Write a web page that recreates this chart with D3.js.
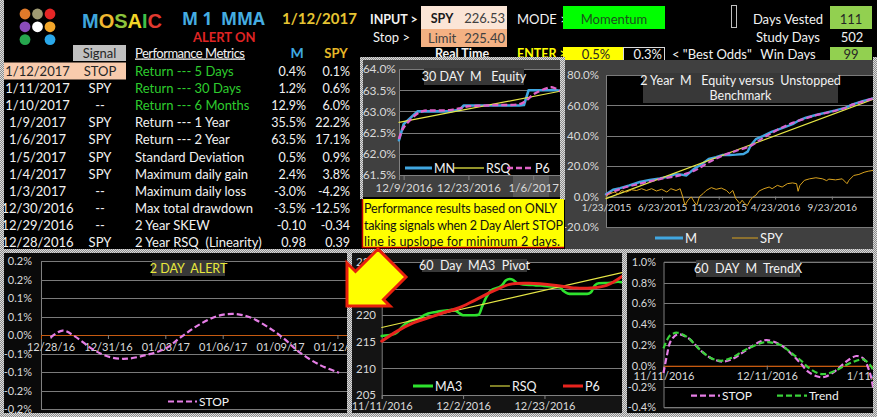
<!DOCTYPE html>
<html><head><meta charset="utf-8">
<script src="https://cdn.jsdelivr.net/npm/d3@7"></script>
<style>body{margin:0;background:#000;overflow:hidden}svg{display:block}text{white-space:pre}</style>
</head><body><svg id="c" width="877" height="417"></svg>
<script>
// ---------------- DATA ----------------
const tableDates = ["1/12/2017","1/11/2017","1/10/2017","1/9/2017","1/6/2017","1/5/2017","1/4/2017","1/3/2017","12/30/2016","12/29/2016","12/28/2016"];
const tableSignals = ["STOP","SPY","--","SPY","SPY","SPY","SPY","--","--","--","SPY"];
const metricNames = ["Return --- 5 Days","Return --- 30 Days","Return --- 6 Months","Return --- 1 Year","Return --- 2 Year","Standard Deviation","Maximum daily gain","Maximum daily loss","Max total drawdown","2 Year SKEW","2 Year RSQ  (Linearity)"];
const metricM = ["0.4%","1.2%","12.9%","35.5%","63.5%","0.5%","2.4%","-3.0%","-3.5%","-0.10","0.98"];
const metricSPY = ["0.1%","0.6%","6.0%","22.2%","17.1%","0.9%","3.8%","-4.2%","-12.5%","-0.34","0.39"];

// 30 day equity
const eqDates = ["2016-12-08","2016-12-09","2016-12-12","2016-12-13","2016-12-14","2016-12-15","2016-12-16","2016-12-19","2016-12-20","2016-12-21","2016-12-22","2016-12-23","2016-12-27","2016-12-28","2016-12-29","2016-12-30","2017-01-03","2017-01-04","2017-01-05","2017-01-06","2017-01-09","2017-01-10","2017-01-11","2017-01-12"];
const eqMN = [62.32,62.70,63.00,63.00,63.00,63.00,63.00,63.00,63.02,63.03,63.14,63.14,63.14,63.14,63.14,63.14,63.14,63.15,63.50,63.50,63.50,63.50,63.50,63.48];
const eqP6 = [62.35,62.62,62.95,63.00,63.02,63.02,63.02,63.03,63.05,63.07,63.10,63.12,63.14,63.15,63.15,63.15,63.17,63.22,63.30,63.40,63.55,63.57,63.53,63.47];
const eqRsqDates = ["2016-12-08","2017-01-12"];
const eqRsq = [62.74,63.48];
const eqYTicks = [61.5,62,62.5,63,63.5,64];
const eqYLabels = ["61.5%","62.0%","62.5%","63.0%","63.5%","64.0%"];
const eqXTicks = ["2016-12-09","2016-12-23","2017-01-06"];
const eqXLabels = ["12/9/2016","12/23/2016","1/6/2017"];

// 2 year equity vs benchmark
const twoMDates = ["2015-01-23","2015-02-11","2015-03-02","2015-03-27","2015-04-24","2015-05-21","2015-06-17","2015-07-14","2015-07-27","2015-08-10","2015-08-28","2015-09-04","2015-09-18","2015-10-12","2015-10-27","2015-11-16","2015-12-04","2015-12-22","2016-01-08","2016-01-29","2016-02-09","2016-02-18","2016-03-02","2016-03-21","2016-04-15","2016-05-12","2016-06-09","2016-06-27","2016-07-15","2016-08-11","2016-09-07","2016-10-03","2016-10-31","2016-11-18","2016-12-15","2017-01-12"];
const twoM = [1.5,4.5,5.6,7.4,9.6,11,12,13.3,14.6,14.6,13.9,15.4,18.3,22,24.8,25.9,27.4,27.4,27.6,28,29.6,34,37.8,39.8,42.8,45,47.6,50.2,52,53.7,55.2,56.7,58.5,60.7,62.8,64.6];
const twoP6Dates = ["2015-01-23","2015-03-02","2015-04-24","2015-06-17","2015-08-10","2015-09-18","2015-10-27","2015-12-04","2016-01-08","2016-02-18","2016-03-21","2016-04-15","2016-05-12","2016-06-09","2016-07-15","2016-08-11","2016-09-07","2016-10-03","2016-10-31","2016-11-18","2016-12-15","2017-01-12"];
const twoP6 = [1.0,5.0,8.5,11.5,14.0,17.0,22.5,27.0,30.0,33.5,38.5,42.0,45.5,48.5,51.5,53.5,55.0,56.5,58.5,60.5,62.5,64.5];
const twoRsqDates = ["2015-01-23","2017-01-12"];
const twoRsq = [-1.3,64.0];
const twoSpyDates = ["2015-01-23","2015-02-02","2015-02-16","2015-02-25","2015-03-06","2015-03-19","2015-04-02","2015-04-15","2015-04-29","2015-05-12","2015-05-26","2015-06-08","2015-06-22","2015-07-06","2015-07-17","2015-07-31","2015-08-11","2015-08-18","2015-08-24","2015-09-01","2015-09-10","2015-09-18","2015-09-25","2015-10-02","2015-10-12","2015-10-20","2015-11-03","2015-11-16","2015-11-30","2015-12-14","2015-12-22","2015-12-31","2016-01-08","2016-01-19","2016-01-25","2016-02-01","2016-02-08","2016-02-16","2016-02-22","2016-03-02","2016-03-11","2016-03-24","2016-04-07","2016-04-15","2016-04-29","2016-05-12","2016-05-26","2016-06-09","2016-06-20","2016-06-24","2016-06-29","2016-07-11","2016-07-25","2016-08-11","2016-08-29","2016-09-09","2016-09-15","2016-10-03","2016-10-21","2016-11-03","2016-11-08","2016-11-21","2016-12-05","2016-12-19","2016-12-30","2017-01-12"];
const twoSpy = [0,2,3,1.5,4,3,4.5,4,5.2,4,5.2,3.7,4.8,3,5.2,4,5.2,-0.2,-5.6,-2.4,-0.2,-3.5,-5.6,0,2,4,5.9,4.8,5.6,4,2,4,-1.3,-4.6,-2.4,-4.6,-6,-2.4,-0.6,0.9,3.7,5.2,6.3,5.2,7.4,6.3,8.5,9,8.5,3.5,7.4,10.7,11.7,12.4,11.7,10.5,11.5,11,11.7,8.5,10.7,13.9,14.6,16,16.7,17.2];
const twoYTicks = [-20,0,20,40,60,80];
const twoYLabels = ["-20.0%","0.0%","20.0%","40.0%","60.0%","80.0%"];
const twoXTicks = ["2015-01-23","2015-06-23","2015-11-23","2016-04-23","2016-09-23"];
const twoXLabels = ["1/23/2015","6/23/2015","11/23/2015","4/23/2016","9/23/2016"];

// 2 day alert
const alertDates = ["2016-12-28T00:00","2016-12-28T15:00","2016-12-29T06:00","2016-12-30T06:00","2016-12-31T03:00","2017-01-01T00:00","2017-01-02T00:00","2017-01-03T00:00","2017-01-03T20:00","2017-01-04T17:00","2017-01-05T17:00","2017-01-06T14:00","2017-01-07T10:00","2017-01-08T12:00","2017-01-09T05:00","2017-01-10T00:00","2017-01-11T02:00","2017-01-12T02:00"];
const alertStop = [-0.007,0.012,-0.003,-0.040,-0.060,-0.064,-0.054,-0.037,-0.005,0.026,0.051,0.057,0.048,0.017,-0.010,-0.046,-0.081,-0.102];
const alertYTicks = [-0.2,-0.15,-0.1,-0.05,0,0.05,0.1,0.15,0.2];
const alertYLabels = ["-0.2%","-0.2%","-0.1%","-0.1%","0.0%","0.1%","0.1%","0.2%","0.2%"];
const alertXTicks = ["2016-12-28","2016-12-31","2017-01-03","2017-01-06","2017-01-09","2017-01-12"];
const alertXLabels = ["12/28/16","12/31/16","01/03/17","01/06/17","01/09/17","01/12/17"];

// 60 day MA3 pivot
const ma3Dates = ["2016-11-11","2016-11-14","2016-11-15","2016-11-16","2016-11-17","2016-11-18","2016-11-21","2016-11-22","2016-11-23","2016-11-25","2016-11-28","2016-11-29","2016-11-30","2016-12-01","2016-12-02","2016-12-05","2016-12-06","2016-12-07","2016-12-08","2016-12-09","2016-12-12","2016-12-13","2016-12-14","2016-12-15","2016-12-16","2016-12-19","2016-12-20","2016-12-21","2016-12-22","2016-12-23","2016-12-27","2016-12-28","2016-12-29","2016-12-30","2017-01-03","2017-01-04","2017-01-05","2017-01-06","2017-01-09","2017-01-10","2017-01-11","2017-01-12"];
const ma3Vals = [216.1,216.4,216.8,217.6,218.3,218.8,219.5,220.0,220.3,220.6,220.9,221.0,220.9,220.4,220.0,220.0,220.1,221.8,223.4,224.5,225.6,226.5,226.8,226.6,226.0,225.7,225.7,225.6,225.6,225.5,225.2,224.5,224.1,224.0,224.0,224.3,225.6,226.0,226.1,226.2,226.3,226.2];
const pivP6Dates = ["2016-11-11","2016-11-15","2016-11-19","2016-11-23","2016-11-27","2016-12-01","2016-12-05","2016-12-10","2016-12-14","2016-12-19","2016-12-26","2016-12-31","2017-01-04","2017-01-08","2017-01-12"];
const pivP6 = [215.1,217.0,218.5,219.5,220.5,221.4,222.8,224.6,225.8,226.0,225.6,225.1,225.1,225.6,227.3];
const pivRsqDates = ["2016-11-11","2017-01-12"];
const pivRsq = [217.7,228.0];
const pivYTicks = [205,210,215,220,225,230];
const pivYLabels = ["205","210","215","220","225","230"];
const pivXTicks = ["2016-11-11","2016-12-02","2016-12-23"];
const pivXLabels = ["11/11/2016","12/2/2016","12/23/2016"];

// 60 day TrendX
const trDates = ["2016-11-11","2016-11-12","2016-11-13","2016-11-15","2016-11-18","2016-11-22","2016-11-25","2016-11-28","2016-12-01","2016-12-05","2016-12-09","2016-12-11","2016-12-15","2016-12-19","2016-12-21","2016-12-23","2016-12-26","2016-12-28","2016-12-31","2017-01-03","2017-01-06","2017-01-08","2017-01-10","2017-01-11"];
const trStop = [-0.07,0.10,0.23,0.30,0.27,0.14,0.07,0.04,0.064,0.15,0.23,0.246,0.20,0.086,0.016,-0.058,-0.106,-0.106,-0.048,0.038,0.093,0.07,-0.074,-0.234];
const trTrend = [0.166,0.246,0.294,0.317,0.272,0.141,0.07,0.048,0.08,0.157,0.214,0.227,0.198,0.10,0.048,-0.016,-0.074,-0.08,-0.048,0.006,0.048,0.061,0.006,-0.048];
const trYTicks = [-0.4,-0.2,0,0.2,0.4,0.6,0.8,1.0];
const trYLabels = ["-0.4%","-0.2%","0.0%","0.2%","0.4%","0.6%","0.8%","1.0%"];
const trXTicks = ["2016-11-11","2016-12-11","2017-01-11"];
const trXLabels = ["11/11/2016","12/11/2016","1/11/2017"];

// ---------------- DRAWING ----------------
const FONT = "Lato, 'Open Sans', 'DejaVu Sans', sans-serif";
const svg = d3.select("#c");
const defs = svg.append("defs");
const pat = defs.append("pattern").attr("id","hatch").attr("width",2).attr("height",2).attr("patternUnits","userSpaceOnUse");
pat.append("rect").attr("width",2).attr("height",2).attr("fill","#8c8c8c");
pat.append("rect").attr("width",1).attr("height",1).attr("fill","#dcdcdc");
pat.append("rect").attr("x",1).attr("y",1).attr("width",1).attr("height",1).attr("fill","#dcdcdc");

svg.append("rect").attr("width",877).attr("height",417).attr("fill","#000");

function T(g,x,y,s,o){
  o=o||{};
  const t=g.append("text").attr("x",x).attr("y",y).text(s)
    .attr("font-family",o.family||FONT).attr("font-size",o.size||12.5)
    .attr("fill",o.fill||"#f2f2f2").attr("text-anchor",o.anchor||"start")
    .attr("font-weight",o.weight||"normal");
  if(o.len) t.attr("textLength",o.len);
  if(o.deco) t.attr("text-decoration",o.deco);
  return t;
}
function R(g,x,y,w,h,fill,stroke){
  const r=g.append("rect").attr("x",x).attr("y",y).attr("width",w).attr("height",h).attr("fill",fill);
  if(stroke) r.attr("stroke",stroke).attr("stroke-width",1);
  return r;
}
const P = d=>new Date(d);

// ---------- header left ----------
const hdr = svg.append("g");
const dots=[[0,0,"#e07a2a"],[1,0,"#a09a72"],[2,0,"#e62626"],[0,1,"#8a4cba"],[1,1,"#ffffff"],[2,1,"#f2a62a"],[0,2,"#26a64e"],[2,2,"#2aa8ea"]];
dots.forEach(d=>hdr.append("circle").attr("cx",25+d[0]*12.5).attr("cy",14+d[1]*12.8).attr("r",5.4).attr("fill",d[2]));
const mos = hdr.append("text").attr("x",82).attr("y",28).attr("font-family","'Liberation Sans', Arial, sans-serif").attr("font-weight","bold").attr("font-size",20);
[["M","#3fa6dc"],["O","#f0b830"],["S","#8cc43c"],["A","#f2d426"],["I","#3ec04a"],["C","#e23a30"]].forEach(l=>mos.append("tspan").attr("fill",l[1]).text(l[0]));
T(hdr,182,25,"M 1  MMA",{size:17,weight:"bold",fill:"#45ade2",family:"'Open Sans', sans-serif"});
T(hdr,282,24,"1/12/2017",{size:15,weight:"bold",fill:"#e6c432"});
T(hdr,193,42,"ALERT ON",{size:13,weight:"bold",fill:"#e02424"});
R(hdr,73,45,53,16,"#c0c0c0");
T(hdr,99.5,57.5,"Signal",{anchor:"middle",fill:"#262626",size:13});
T(hdr,135,57.5,"Performance Metrics",{size:13,deco:"underline",len:110});
T(hdr,297,58,"M",{anchor:"middle",weight:"bold",fill:"#3fa9e0",size:14});
T(hdr,336,58,"SPY",{anchor:"middle",weight:"bold",fill:"#e6b828",size:13});

// table
const tbl = svg.append("g");
R(tbl,4,62.5,122,17,"#f8cbad");
tableDates.forEach((d,i)=>{
  const y = 71 + i*17.17 + 4.7;
  const c0 = i===0 ? "#262626" : "#f2f2f2";
  T(tbl,37.5,y,d,{anchor:"middle",fill:c0,size:13});
  T(tbl,100,y,tableSignals[i],{anchor:"middle",fill:c0,size:13});
  T(tbl,135,y,metricNames[i],{fill: i<3 ? "#2ecc2e" : "#f2f2f2",size:13});
  T(tbl,306,y,metricM[i],{anchor:"end",size:12.5});
  T(tbl,350,y,metricSPY[i],{anchor:"end",size:12.5});
});

// ---------- header right ----------
const hr = svg.append("g");
T(hr,370,23.5,"INPUT >",{weight:"bold",size:12.5});
R(hr,421,6,86,23,"#fbe5d6");
T(hr,442,23,"SPY",{anchor:"middle",weight:"bold",fill:"#1a1a1a",size:12.5});
T(hr,505,23,"226.53",{anchor:"end",fill:"#404040",size:13});
T(hr,410,42,"Stop >",{anchor:"end",size:13});
R(hr,421,29,86,18,"#f4b183");
T(hr,428,42.5,"Limit",{fill:"#404040",size:13});
T(hr,505,42.5,"225.40",{anchor:"end",fill:"#404040",size:13});
T(hr,462,58,"Real Time",{anchor:"middle",weight:"bold",size:12.5});
T(hr,517,23.5,"MODE >",{size:13});
R(hr,563,6,102,23,"#00ff00");
T(hr,614,23.5,"Momentum",{anchor:"middle",fill:"#1d4f1d",size:13});
T(hr,517,58,"ENTER >",{weight:"bold",fill:"#ffff00",size:12.5});
R(hr,563,47,60,15,"#ffff00");
T(hr,596,58.5,"0.5%",{anchor:"middle",fill:"#262626",size:13});
R(hr,623.5,47.5,41,14,"#000","#d9d9d9");
T(hr,662,58.5,"0.3%",{anchor:"end",size:13});
T(hr,672,58.5,"< \"Best Odds\"",{size:13});
R(hr,731.5,5.5,5,22,"none","#bfbfbf");
T(hr,788,23.5,"Days Vested",{anchor:"middle",size:13});
R(hr,830,6,42,23,"#92d050");
T(hr,851,23.5,"111",{anchor:"middle",fill:"#262626",size:13});
T(hr,788,41.5,"Study Days",{anchor:"middle",size:13});
T(hr,852,41.5,"502",{anchor:"middle",size:13});
T(hr,788,58.5,"Win Days",{anchor:"middle",size:13});
R(hr,830,47,42,15,"#92d050");
T(hr,851,58.5,"99",{anchor:"middle",fill:"#262626",size:13});

// ---------- chart helper ----------
let clipN=0;
function panel(x,y,w,h,fill){
  const id="clip"+(clipN++);
  defs.append("clipPath").attr("id",id).append("rect").attr("x",x).attr("y",y).attr("width",w).attr("height",h);
  const g=svg.append("g").attr("clip-path","url(#"+id+")");
  R(g,x,y,w,h,fill);
  return g;
}
function axes(g,c){
  const x=d3.scaleTime().domain(c.xDomain.map(P)).range([c.left,c.right]);
  const y=d3.scaleLinear().domain(c.yDomain).range([c.bottom,c.top]);
  if(c.pre) c.pre(g);
  R(g,c.left,c.top,c.right-c.left,c.bottom-c.top,"#000");
  const ya=g.append("g").attr("transform","translate("+c.left+",0)")
    .call(d3.axisLeft(y).tickValues(c.yTicks).tickFormat((d,i)=>c.yLabels[i]).tickSize(-(c.right-c.left)).tickPadding(c.left-c.labelRight));
  ya.attr("font-family",FONT).attr("font-size",c.fs||11);
  ya.select(".domain").attr("stroke","#808080");
  ya.selectAll(".tick line").attr("stroke",d=>(c.zero && d===0)?"#c55a11":"#7a7a7a").attr("shape-rendering","crispEdges");
  ya.selectAll(".tick text").attr("fill","#d9d9d9");
  const axY = (c.xAxisAt!==undefined) ? y(c.xAxisAt) : c.xAxisY;
  const xa=g.append("g").attr("transform","translate(0,"+axY+")")
    .call(d3.axisBottom(x).tickValues(c.xTicks.map(P)).tickFormat((d,i)=>c.xLabels[i]).tickSize(c.ts||4).tickPadding(c.tp||3));
  xa.attr("font-family",FONT).attr("font-size",c.xfs||c.fs||11);
  xa.select(".domain").attr("stroke",c.zero?"#c55a11":"#808080");
  xa.selectAll(".tick line").attr("stroke","#808080");
  xa.selectAll(".tick text").attr("fill","#d9d9d9");
  return {x,y};
}
function line(g,s,dates,vals,o){
  const gen=d3.line().x((d,i)=>s.x(P(dates[i]))).y(d=>s.y(d)).curve(o.curve||d3.curveLinear);
  const p=g.append("path").attr("d",gen(vals)).attr("fill","none").attr("stroke",o.color).attr("stroke-width",o.w||2)
    .attr("stroke-linejoin","round").attr("stroke-linecap",o.dash?"butt":"round");
  if(o.dash) p.attr("stroke-dasharray",o.dash);
}
function titleBox(g,x,y,w,h,lines,color,size){
  R(g,x,y,w,h,"#383838");
  lines.forEach((l,i)=>T(g,x+w/2,y+h/2+4.5+(i-(lines.length-1)/2)*15,l,{anchor:"middle",fill:color||"#f2f2f2",size:size||12.5}));
}
function legendItem(g,x1,x2,y,color,w,dash,label,size){
  const l=g.append("line").attr("x1",x1).attr("x2",x2).attr("y1",y).attr("y2",y).attr("stroke",color).attr("stroke-width",w);
  if(dash) l.attr("stroke-dasharray",dash);
  T(g,x2+2,y+4.5,label,{size:size||12});
}

// ---------- 30 day equity ----------
{
  const g=panel(363,60,197,137,"#404040");
  const s=axes(g,{left:399,right:561,top:69,bottom:175,xDomain:["2016-12-08","2017-01-12"],yDomain:[61.5,64],
    yTicks:eqYTicks,yLabels:eqYLabels,labelRight:396,xTicks:eqXTicks,xLabels:eqXLabels,xAxisY:175,ts:5,tp:4,fs:12,xfs:11.5,
    pre:gg=>R(gg,513,176,36,21,"#5a5a5a")});
  line(g,s,eqDates,eqMN,{color:"#41a7e1",w:2.6});
  line(g,s,eqRsqDates,eqRsq,{color:"#e6e645",w:1.2});
  line(g,s,eqDates,eqP6,{color:"#e163c8",w:2.4,dash:"6,3",curve:d3.curveCatmullRom});
  titleBox(g,424,68,100,17,["30 DAY  M   Equity"],"#f2f2f2",12.5);
  legendItem(g,405,432,168,"#41a7e1",3,null,"MN",12.5);
  legendItem(g,454,484,168,"#e6e645",1.3,null,"RSQ",12.5);
  legendItem(g,507,533,168,"#e163c8",2.5,"6,3","P6",12.5);
}
// ---------- 2 year ----------
{
  const g=panel(565,60,308,189,"#404040");
  const s=axes(g,{left:606,right:873,top:75,bottom:227,xDomain:["2015-01-23","2017-01-12"],yDomain:[-20,80],
    yTicks:twoYTicks,yLabels:twoYLabels,labelRight:599,xTicks:twoXTicks,xLabels:twoXLabels,xAxisAt:0,ts:3,tp:4,fs:11.5,xfs:10});
  line(g,s,twoMDates,twoM,{color:"#41a7e1",w:2.4});
  line(g,s,twoRsqDates,twoRsq,{color:"#e6e645",w:1.2});
  line(g,s,twoP6Dates,twoP6,{color:"#d765d0",w:2.2,dash:"6,3",curve:d3.curveCatmullRom});
  line(g,s,twoSpyDates,twoSpy,{color:"#d9a21e",w:1});
  titleBox(g,643,73,195,30,["2 Year  M   Equity versus  Unstopped","Benchmark"],"#f2f2f2",12.5);
  legendItem(g,655,683,238,"#41a7e1",3,null,"M",13);
  legendItem(g,732,758,238,"#d9a21e",1,null,"SPY",13);
}
// hatch borders (top area)
function hatch(x,y,w,h){R(svg,x,y,w,h,"url(#hatch)");}
hatch(360,57,205,3);
hatch(360,57,3,142);
hatch(560,57,5,143);
hatch(873,57,4,196);

// yellow note
{
  const g=svg.append("g");
  R(g,362,199,202,49,"#ffff00");
  g.append("line").attr("x1",362.5).attr("x2",362.5).attr("y1",199).attr("y2",248).attr("stroke","#c00000").attr("stroke-width",1.5);
  g.append("line").attr("x1",362).attr("x2",564).attr("y1",247.5).attr("y2",247.5).attr("stroke","#c00000").attr("stroke-width",1.5);
  T(g,364,212.5,"Performance results based on ONLY",{fill:"#111",size:12.5,len:193});
  T(g,364,229.5,"taking signals when 2 Day Alert STOP",{fill:"#111",size:12.5,len:199});
  T(g,364,246,"line is upslope for minimum 2 days.",{fill:"#111",size:12.5,len:196});
}

// ---------- 2 day alert ----------
{
  const g=panel(4,253,343,160,"#0a0a0a");
  const s=axes(g,{left:41,right:347,top:261,bottom:409,xDomain:["2016-12-27T12:00","2017-01-12T12:00"],yDomain:[-0.2,0.2],
    yTicks:alertYTicks,yLabels:alertYLabels,labelRight:32,xTicks:alertXTicks,xLabels:alertXLabels,xAxisAt:0,ts:4,tp:4,fs:11,zero:true});
  line(g,s,alertDates,alertStop,{color:"#e67ee6",w:2.2,dash:"6,3",curve:d3.curveCatmullRom});
  titleBox(g,152,260,73,16,["2 DAY  ALERT"],"#e8e83c",12.5);
  legendItem(g,168,197,401.5,"#e67ee6",2.2,"6,3","STOP",12);
}
// ---------- 60 day MA3 pivot ----------
{
  const g=panel(352,253,270,160,"#141414");
  const s=axes(g,{left:381.7,right:622,top:262,bottom:395,xDomain:["2016-11-11","2017-01-12"],yDomain:[205,230],
    yTicks:pivYTicks,yLabels:pivYLabels,labelRight:376,xTicks:pivXTicks,xLabels:pivXLabels,xAxisY:395,ts:4,tp:3,fs:11.5,xfs:11});
  line(g,s,ma3Dates,ma3Vals,{color:"#2ee22e",w:2.6,curve:d3.curveMonotoneX});
  line(g,s,pivRsqDates,pivRsq,{color:"#e6e645",w:1.1});
  line(g,s,pivP6Dates,pivP6,{color:"#e8241e",w:3,curve:d3.curveCatmullRom});
  titleBox(g,422,259,105,13,["60  Day  MA3  Pivot"],"#f2f2f2",12.5);
  legendItem(g,413,433,386,"#2ee22e",3,null,"MA3",12.5);
  legendItem(g,490,510,386,"#e6e645",1.1,null,"RSQ",12.5);
  legendItem(g,563,583,386,"#e8241e",3,null,"P6",12.5);
}
// ---------- 60 day TrendX ----------
{
  const g=panel(627,253,246,160,"#0a0a0a");
  const s=axes(g,{left:663.5,right:873.5,top:261.7,bottom:407.3,xDomain:["2016-11-11","2017-01-11"],yDomain:[-0.4,1.0],
    yTicks:trYTicks,yLabels:trYLabels,labelRight:656,xTicks:trXTicks,xLabels:trXLabels,xAxisAt:0,ts:4,tp:3,fs:11,zero:true});
  line(g,s,trDates,trStop,{color:"#e67ee6",w:2.2,dash:"6,3",curve:d3.curveCatmullRom});
  line(g,s,trDates,trTrend,{color:"#3ad23a",w:2.2,dash:"6,3",curve:d3.curveCatmullRom});
  titleBox(g,696,260,104,17,["60  DAY  M  TrendX"],"#f2f2f2",12.5);
  legendItem(g,691,720,395.7,"#e67ee6",2.2,"6,3","STOP",12);
  legendItem(g,777,807,395.7,"#3ad23a",2.2,"6,3","Trend",12);
}
// bottom hatch borders
hatch(0,0,4,417);
hatch(0,249,877,4);
hatch(347,253,5,164);
hatch(622,253,5,164);
hatch(0,413,877,4);
hatch(873,253,4,164);

// arrow
svg.append("polygon")
  .attr("points",[[347,306],[347,263],[355.5,271.5],[378,249],[406,277],[383.5,299.5],[390,306]].map(p=>p.join(",")).join(" "))
  .attr("fill","#ffff00").attr("stroke","#e8200c").attr("stroke-width",3).attr("stroke-linejoin","miter");
</script></body></html>
